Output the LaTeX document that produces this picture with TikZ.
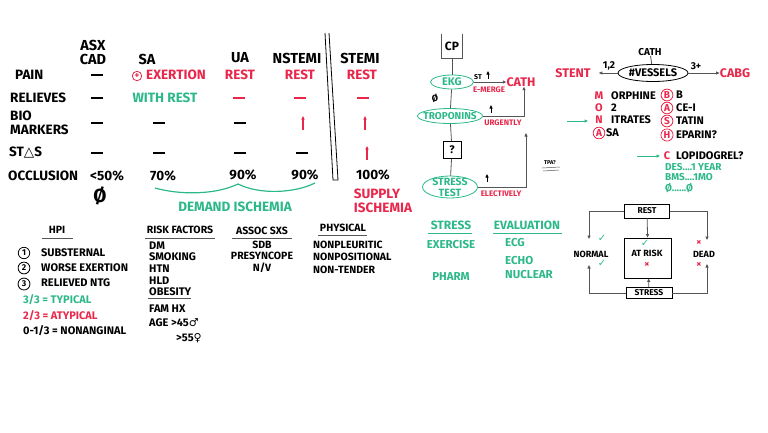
\documentclass[tikz,border=0pt]{standalone}
\usepackage{fontspec}
\setmainfont{Fira Sans}
\newfontfamily\symfont{DejaVu Sans}
\usetikzlibrary{arrows.meta,shapes.geometric}
\definecolor{hred}{HTML}{E8274B}
\definecolor{hgreen}{HTML}{2DB88A}
\definecolor{hline}{HTML}{555555}
\tikzset{
  fs/.style={font=\fontsize{#1}{#1}\selectfont\bfseries, inner sep=0pt},
  col/.style={fs=14.5},
  tab/.style={fs=13.5},
  lst/.style={fs=11, anchor=west},
  hdr/.style={fs=10.5},
  tiny/.style={fs=8},
  tip/.style={-{Triangle[length=3.5pt,width=3pt]}},
  thin/.style={draw=hline, line width=0.8pt},
  oval/.style={ellipse, draw=hgreen, line width=0.8pt, text=hgreen, fs=10, inner xsep=-4pt, inner ysep=0pt},
  ring/.style={circle, draw, line width=0.8pt, inner sep=0.9pt},
  box/.style={draw, line width=0.8pt, fs=8.5},
  nil/.pic={\draw[line width=1.6pt] (-6,0) -- (6,0);},
  rise/.pic={\draw[line width=1.2pt, tip] (0,7) -- (0,-7);},
  tick/.pic={\draw[line width=0.8pt, tip] (0,4) -- (0,-4);}
}
\begin{document}
\begin{tikzpicture}[x=1pt, y=-1pt]
\useasboundingbox (0,0) rectangle (768,432);

% table
\node[col] (asx) at (93,45) {ASX};
\node[col] (cad) at (93,59) {CAD};
\node[col] (sa) at (147,59) {SA};
\node[col] (ua) at (240,58) {UA};
\node[col] (nstemi) at (297,58) {NSTEMI};
\node[col] (stemi) at (360,58) {STEMI};

\node[tab, anchor=west] (pain) at (15,75) {PAIN};
\node[tab, anchor=west] (relieves) at (10,98) {RELIEVES};
\node[tab, anchor=west] (bio) at (10,116) {BIO};
\node[tab, anchor=west] (markers) at (10,130) {MARKERS};
\node[tab, anchor=west] (stch) at (9,153) {ST{\symfont △}S};
\node[tab, anchor=west] (occl) at (8,176) {OCCLUSION};

\pic at (97,75) {nil};
\pic at (97,98) {nil};
\pic at (97,123) {nil};
\pic at (97,153) {nil};
\node[tab] (asxocc) at (107,176) {<50\%};
\node[fs=19] (asxnil) at (100,196) {Ø};

\node[fs=9, ring, hred] (plus) at (137,76) {+};
\node[tab, anchor=west, text=hred] (exer) at (146,75) {EXERTION};
\node[tab, text=hgreen] (wrest) at (165,98) {WITH REST};
\pic at (159,123) {nil};
\pic at (159,153) {nil};
\node[tab] (saocc) at (163,176) {70\%};

\node[tab, text=hred] (uarest) at (240,75) {REST};
\pic[hred] at (239,98) {nil};
\pic at (240,123) {nil};
\pic at (240,153) {nil};
\node[tab] (uaocc) at (243,175) {90\%};

\node[tab, text=hred] (nsrest) at (300,75) {REST};
\pic[hred] at (300,98) {nil};
\pic[hred] at (303,123) {rise};
\pic at (302,153) {nil};
\node[tab] (nsocc) at (305,175) {90\%};

\draw[line width=0.8pt] (325,33) -- (333,180) -- (338,180) -- (329,33);

\node[tab, text=hred] (strest) at (362,75) {REST};
\pic[hred] at (363,98) {nil};
\pic[hred] at (365,123) {rise};
\pic[hred] at (367,153) {rise};
\node[tab] (stocc) at (373,175) {100\%};

\draw[hgreen, line width=1.2pt] (155,188) .. controls (180,195) and (215,195) .. (238,184)
  .. controls (260,195) and (295,193) .. (315,183);
\node[tab, text=hgreen] (demand) at (235,207) {DEMAND ISCHEMIA};
\node[tab, text=hred] (supply) at (377,194) {SUPPLY};
\node[tab, text=hred] (isch) at (383,208) {ISCHEMIA};

% work-up
\node[fs=12, minimum width=21pt, minimum height=24pt] (cp) at (452,46) {CP};
\draw[thin] (cp.north west) -- (cp.south west) -- (cp.south east) -- (cp.north east);
\node[oval, fs=11, minimum width=43pt, minimum height=14pt] (ekg) at (452,82) {EKG};
\node[oval, minimum width=65pt, minimum height=15pt] (trop) at (450,116) {TROPONINS};
\node[box, fs=11, minimum width=18pt, minimum height=17pt] (qbox) at (452,150) {?};
\node[oval, minimum width=55pt, minimum height=22pt, inner ysep=-2.5pt, align=center,
  font=\fontsize{10.5}{11}\selectfont\bfseries] (stress) at (450,187) {STRESS\\TEST};
\draw[thin] (cp) -- (ekg);
\draw[thin] (ekg) -- (trop);
\draw[thin] (trop) -- (qbox);
\draw[thin] (qbox) -- (stress);

\node[fs=12.5, text=hred] (cath) at (521,82) {CATH};
\draw[thin, tip] (ekg) -- (cath);
\node[fs=7] (stlbl) at (478,77) {ST};
\pic at (488,75) {tick};
\node[tiny, text=hred] (emerge) at (489,90) {E-MERGE};
\node[fs=9] (ekgnil) at (435,98) {Ø};

\draw[thin, tip] (trop.east) -| ([xshift=3pt]cath.south);
\pic at (491,109) {tick};
\node[tiny, text=hred] (urg) at (503,123) {URGENTLY};

\coordinate (elec) at (526,133);
\draw[thin, tip] (stress.east) -| (elec);
\pic at (487,178) {tick};
\node[tiny, text=hred] (electively) at (501,194) {ELECTIVELY};

\node[fs=5.5] (tpa) at (550,163) {TPA?};
\draw[hline, line width=0.5pt] (542,168) -- (560,167);
\draw[hline, line width=0.5pt] (543,171) -- (559,170);

% cath
\node[fs=10] (cathtop) at (650,52) {CATH};
\node[ellipse, draw, line width=0.8pt, fs=11, inner xsep=-4pt, inner ysep=0pt,
  minimum width=70pt, minimum height=17pt] (vessels) at (653,73) {\#VESSELS};
\draw[thin] (cathtop) -- (vessels);
\node[fs=12.5, text=hred] (stent) at (573,73) {STENT};
\node[fs=12.5, text=hred] (cabg) at (735,73) {CABG};
\draw[thin, tip, shorten >=8pt] (vessels) -- (stent);
\draw[thin, tip] (vessels) -- (cabg);
\node[fs=10] (onetwo) at (609,66) {1,2};
\node[fs=10] (threeplus) at (696,66) {3+};

% mona
\coordinate (monafrom) at (567,121);
\coordinate (monato) at (588,121);
\draw[hgreen, line width=0.9pt, tip] (monafrom) -- (monato);
\node[fs=11, text=hred] (m) at (599,96) {M};
\node[fs=11, text=hred] (o) at (599,108) {O};
\node[fs=11, text=hred] (n) at (599,120) {N};
\node[fs=10, ring, hred] (a) at (599,133) {A};
\node[lst] (morph) at (611,96) {ORPHINE};
\node[lst] (oxy) at (611,108) {2};
\node[lst] (nitr) at (611,120) {ITRATES};
\node[lst] (asa) at (606,133) {SA};

\node[fs=10, ring, hred] (b) at (667,95) {B};
\node[fs=10, ring, hred] (a2) at (667,108) {A};
\node[fs=10, ring, hred] (s) at (667,121) {S};
\node[fs=10, ring, hred] (h) at (667,135) {H};
\node[lst] (bb) at (676,95) {B};
\node[lst] (ace) at (676,108) {CE-I};
\node[lst] (statin) at (676,121) {TATIN};
\node[lst] (hep) at (676,135) {EPARIN?};

\coordinate (clopfrom) at (637,156);
\coordinate (clopto) at (660,156);
\draw[hgreen, line width=0.9pt, tip] (clopfrom) -- (clopto);
\node[fs=11, text=hred] (c) at (667,156) {C};
\node[lst] (clop) at (676,156) {LOPIDOGREL?};
\node[fs=10, anchor=west, text=hgreen] (des) at (665,167) {DES....1 YEAR};
\node[fs=10, anchor=west, text=hgreen] (bms) at (665,177) {BMS....1MO};
\node[fs=10, anchor=west, text=hgreen] (none) at (665,188) {Ø......Ø};

% hpi
\node[hdr] (hpi) at (57,230) {HPI};
\draw[thin] (42,238) -- (73,238);
\node[fs=8.5, ring, inner sep=1.6pt] (one) at (24,253) {1};
\node[fs=8.5, ring, inner sep=1.6pt] (two) at (24,268) {2};
\node[fs=8.5, ring, inner sep=1.6pt] (three) at (24,284) {3};
\node[lst] (subst) at (41,253) {SUBSTERNAL};
\node[lst] (worse) at (41,268) {WORSE EXERTION};
\node[lst] (relntg) at (41,283) {RELIEVED NTG};
\node[lst, text=hgreen] (typ) at (23,300) {3/3 = TYPICAL};
\node[lst, text=hred] (atyp) at (23,316) {2/3 = ATYPICAL};
\node[lst] (nonang) at (23,331) {0-1/3 = NONANGINAL};

\node[hdr] (risk) at (180,230) {RISK FACTORS};
\draw[thin] (145,238) -- (215,238);
\node[lst] (dm) at (149,246) {DM};
\node[lst] (smoke) at (149,257) {SMOKING};
\node[lst] (htn) at (149,269) {HTN};
\node[lst] (hld) at (149,281) {HLD};
\node[lst] (obes) at (149,292) {OBESITY};
\draw[thin] (148,298) -- (191,298);
\node[lst] (famhx) at (149,309) {FAM HX};
\node[lst] (age) at (149,323) {AGE >45{\symfont\fontsize{11}{11}\selectfont ♂}};
\node[lst] (age2) at (176,338) {>55{\symfont\fontsize{11}{11}\selectfont ♀}};

\node[hdr] (assoc) at (262,231) {ASSOC SXS};
\draw[thin] (232,238) -- (292,238);
\node[fs=10.5] (sdb) at (262,245) {SDB};
\node[fs=10.5] (presync) at (262,256) {PRESYNCOPE};
\node[fs=10.5] (nv) at (262,268) {N/V};

\node[hdr] (phys) at (343,228) {PHYSICAL};
\draw[thin] (318,235) -- (367,235);
\node[lst, fs=10.5, anchor=west] (pleur) at (313,245) {NONPLEURITIC};
\node[lst, fs=10.5, anchor=west] (posit) at (313,257) {NONPOSITIONAL};
\node[lst, fs=10.5, anchor=west] (tender) at (313,270) {NON-TENDER};

% stress
\node[fs=12, text=hgreen] (strhd) at (451,225) {STRESS};
\draw[hgreen, line width=0.8pt] (428,233) -- (472,233);
\node[fs=12, text=hgreen] (evalhd) at (527,225) {EVALUATION};
\draw[hgreen, line width=0.8pt] (493,233) -- (562,233);
\node[fs=11.5, text=hgreen] (exerc) at (451,245) {EXERCISE};
\node[fs=11.5, text=hgreen] (pharm) at (451,277) {PHARM};
\node[lst, fs=11.5, anchor=west, text=hgreen] (ecg) at (505,243) {ECG};
\node[lst, fs=11.5, anchor=west, text=hgreen] (echo) at (505,261) {ECHO};
\node[lst, fs=11.5, anchor=west, text=hgreen] (nuc) at (505,275) {NUCLEAR};

% outcomes
\node[box, minimum width=45pt, minimum height=14pt] (rest) at (647,211) {REST};
\node[box, minimum width=47pt, minimum height=40pt] (atrisk) at (648,258) {};
\node[box, minimum width=46pt, minimum height=11pt] (strbox) at (649,293) {STRESS};
\node[fs=9] (atrisklbl) at (647,253) {AT RISK};
\node[fs=9] (normal) at (591,254) {NORMAL};
\node[fs=9] (dead) at (704,254) {DEAD};
\coordinate (ntop) at (589,239);
\coordinate (nbot) at (589,265);
\coordinate (dtop) at (707,240);
\coordinate (dbot) at (707,264);
\draw[thin, tip] (rest.west) -| (ntop);
\draw[thin, tip] (strbox.west) -| (nbot);
\draw[thin, tip] (rest.east) -| (dtop);
\draw[thin, tip] (strbox.east) -| (dbot);
\draw[thin, tip] (rest) -- (atrisk);
\draw[thin, tip] (strbox) -- (atrisk);
\node[inner sep=0pt, text=hgreen, font=\symfont\fontsize{10}{10}\selectfont] (ok1) at (602,238) {✓};
\node[inner sep=0pt, text=hgreen, font=\symfont\fontsize{10}{10}\selectfont] (ok2) at (602,263) {✓};
\node[inner sep=0pt, text=hgreen, font=\symfont\fontsize{10}{10}\selectfont] (ok3) at (645,243) {✓};
\node[fs=10, text=hred] (x1) at (647,265) {×};
\node[fs=10, text=hred] (x2) at (699,243) {×};
\node[fs=10, text=hred] (x3) at (699,265) {×};
\end{tikzpicture}
\end{document}
